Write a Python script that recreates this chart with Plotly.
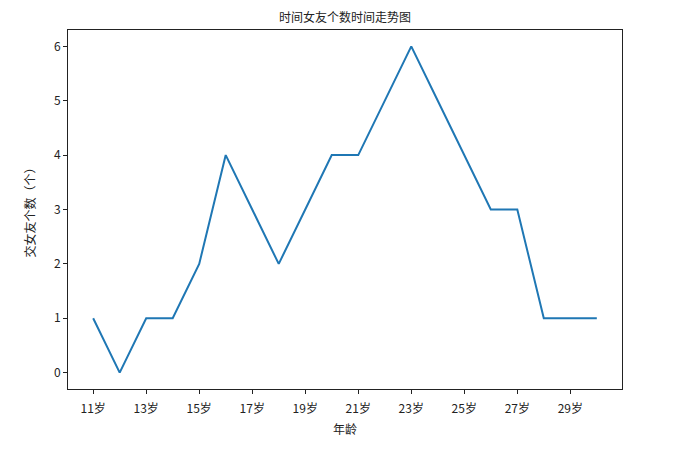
import plotly.graph_objects as go

ages = list(range(11, 31))
counts = [1, 0, 1, 1, 2, 4, 3, 2, 3, 4, 4, 5, 6, 5, 4, 3, 3, 1, 1, 1]
tick_vals = list(range(11, 31, 2))
tick_text = [f"{a}岁" for a in tick_vals]

font = "Noto Sans CJK SC, DejaVu Sans, sans-serif"

fig = go.Figure(go.Scatter(x=ages, y=counts, mode="lines",
                           line=dict(color="#1f77b4", width=2)))

fig.update_layout(
    width=668, height=445,
    margin=dict(l=60, r=54, t=22, b=64),
    paper_bgcolor="white", plot_bgcolor="white",
    font=dict(family=font, size=12, color="#222"),
    showlegend=False,
    title=dict(text="时间女友个数时间走势图", x=0.5, xref="paper", xanchor="center",
               y=1 - 10 / 445, yref="container", yanchor="middle",
               font=dict(size=12, color="#222")),
)
axis_common = dict(showline=True, linecolor="#222", linewidth=1, mirror=True,
                   ticks="outside", ticklen=4, tickcolor="#222", showgrid=False,
                   zeroline=False, tickfont=dict(size=12, color="#222"))
fig.update_xaxes(range=[10.05, 30.95], tickvals=tick_vals, ticktext=tick_text,
                 ticklabelstandoff=5,
                 title=dict(text="年龄", standoff=10, font=dict(size=12)), **axis_common)
fig.update_yaxes(range=[-0.3, 6.3], tickvals=list(range(0, 7)),
                 title=dict(text="交女友个数（个）", standoff=15, font=dict(size=12)), **axis_common)

fig.write_html("out.html")
